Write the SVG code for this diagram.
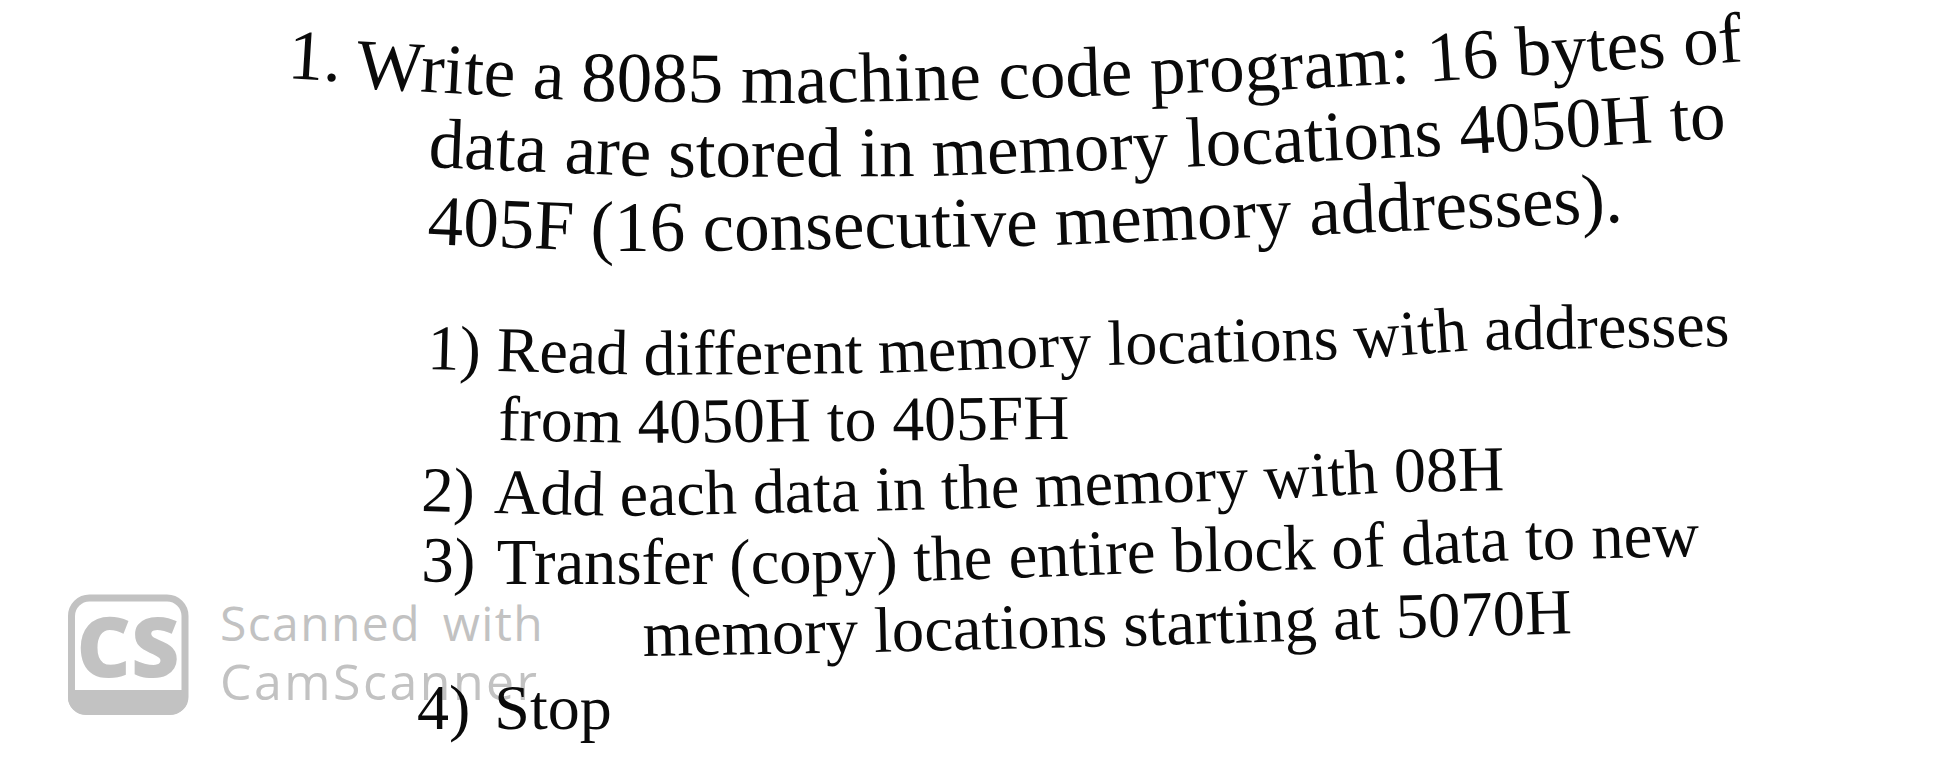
<svg xmlns="http://www.w3.org/2000/svg" width="1940" height="760" viewBox="0 0 1940 760">
<style>
.t{font-family:"Liberation Serif","Times New Roman",serif;font-size:71px;fill:#0a0a0a}
.s{font-family:"Liberation Serif","Times New Roman",serif;font-size:64px;fill:#0a0a0a}
.w{font-family:"Open Sans","Noto Sans",sans-serif;fill:#c2c2c2}
</style>
<defs>
<path id="l1" d="M287 78L335 81L359 88L591 101L804 103L1000 99L1274 90L1425 82L1512 76L1680 66L1760 60"/>
<path id="l2" d="M428 167L566 173L672 177L932 176L1184 167L1453 155L1658 142L1730 138"/>
<path id="l3" d="M427 244L598 251L708 251L1058 245L1308 235L1620 222"/>
<path id="l4" d="M427 369L497 371L647 375L881 373L1105 365L1348 359L1478 350L1730 346"/>
<path id="l5" d="M498 440L640 443L826 441L1068 439"/>
<path id="l6" d="M421 511L497 513L625 516L865 511L1039 507L1265 499L1398 492L1510 490"/>
<path id="l7" d="M421 581L497 584L732 584L915 581L1008 578L1169 572L1330 569L1520 560L1702 556"/>
<path id="l8" d="M643 656L875 652L1122 646L1327 640L1580 633"/>
<path id="l9" d="M417 729L495 729L615 729"/>
</defs>
<rect width="1940" height="760" fill="#fff"/>
<g id="watermark">
<path d="M71.500 690V616a18 18 0 0 1 18-18H167a18 18 0 0 1 18 18V697a14 14 0 0 1-14 14H86a14 14 0 0 1-14.500-14Z" fill="#fff" stroke="#c2c2c2" stroke-width="7"/>
<path d="M68 690H188V697a18 18 0 0 1-18 18H86a18 18 0 0 1-18-18Z" fill="#c2c2c2"/>
<text class="w" x="128" y="677" text-anchor="middle" font-weight="800" font-size="84">CS</text>
<text class="w" x="220" y="641" font-size="48" letter-spacing="1.400" word-spacing="-3" xml:space="preserve">Scanned  with</text>
<text class="w" x="220" y="700" font-size="50" letter-spacing="2.500">CamScanner</text>
</g>
<g id="question">
<text class="t"><textPath href="#l1">1. Write a 8085 machine code program: 16 bytes of</textPath></text>
<text class="t"><textPath href="#l2">data are stored in memory locations 4050H to</textPath></text>
<text class="t"><textPath href="#l3">405F (16 consecutive memory addresses).</textPath></text>
</g>
<g id="steps">
<text class="s"><textPath href="#l4">1) Read different memory locations with addresses</textPath></text>
<text class="s" style="font-size:63.700px"><textPath href="#l5">from 4050H to 405FH</textPath></text>
<text class="s"><textPath href="#l6">2)<tspan dx="7"> Add each data in the memory with 08H</tspan></textPath></text>
<text class="s" style="font-size:64.600px"><textPath href="#l7">3)<tspan dx="7"> Transfer (copy) the entire block of data to new</tspan></textPath></text>
<text class="s" style="font-size:64.600px"><textPath href="#l8">memory locations starting at 5070H</textPath></text>
<text class="s"><textPath href="#l9">4)<tspan dx="8"> Stop</tspan></textPath></text>
</g>
</svg>
